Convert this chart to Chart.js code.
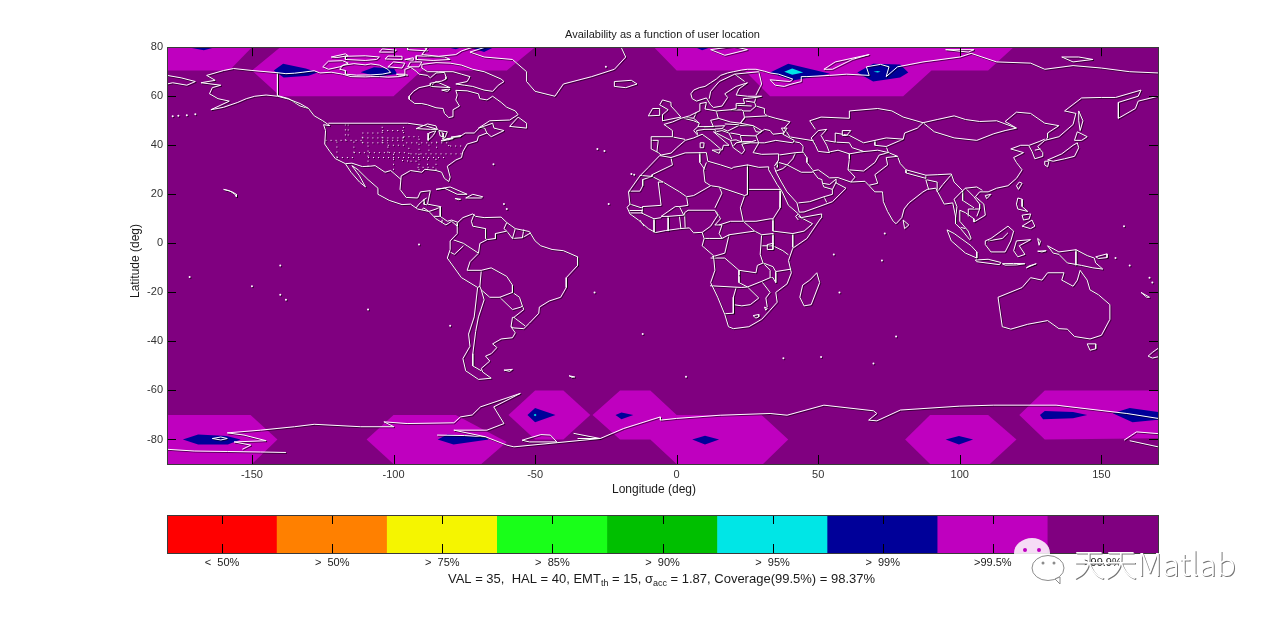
<!DOCTYPE html>
<html>
<head>
<meta charset="utf-8">
<script src="https://cdn.jsdelivr.net/npm/chart.js@4"></script>
<style>
html, body { margin: 0; padding: 0; background: #fff; }
#map { position: absolute; left: 0; top: 0; }
#bar { position: absolute; left: 0; top: 505px; }
</style>
</head>
<body>
<canvas id="map" width="1280" height="505" style="width:1280px;height:505px"></canvas>
<canvas id="bar" width="1280" height="116" style="width:1280px;height:116px"></canvas>
<script>
// axes
var lonTicks = [-150, -100, -50, 0, 50, 100, 150];
var latTicks = [80, 60, 40, 20, 0, -20, -40, -60, -80];

// colour bar
var levelNames = ['<  50%', '>  50%', '>  75%', '>  85%', '>  90%', '>  95%', '>  99%', '>99.5%', '>99.9%'];
var levelValues = [1, 1, 1, 1, 1, 1, 1, 1, 1];
var levelColors = ['#ff0000', '#ff8000', '#f5f500', '#19ff19', '#00bf00', '#00e6e6', '#000099', '#bf00bf', '#800080'];

// availability contours, lon,lat pairs
var zoneAll = [-180,80, 170,80, 170,-90, -180,-90];
var above995 = [
  [-180,80, -150,80, -158,70.5, -180,70.5],
  [-140,80, -150,70.5, -140,60, -100,60, -90,70.5, -60,70.5, -50,80],
  [-8,80, 0,70.5, 24,70.5, 33,60, 80,60, 90,70.5, 110,70.5, 119,80],
  [-180,-70, -150.5,-70, -141,-80, -150,-90, -180,-90],
  [-109.5,-80, -100,-70, -78,-70, -60,-81, -69,-90, -100,-90],
  [-59.4,-70, -50,-60, -40,-60, -30.5,-70, -40,-80, -50,-80],
  [-29.7,-70, -20,-60, -9.3,-60, 0,-70, 30,-70, 39.4,-80, 30.5,-90, 0,-90, -9.3,-80, -20,-80],
  [80.7,-80, 89.5,-70, 110,-70, 120,-80, 110.6,-90, 89.5,-90],
  [121,-70, 130,-60, 170,-60, 170,-79.5, 130,-80]
];
var above99 = [
  [-172.6,80, -167,78.8, -163,80],
  [-142.3,70.5, -139,73.3, -131,71.3, -126.8,69.7, -130,68.4, -138.8,67.6],
  [-111.6,69.8, -106.9,71.8, -99.8,71.2, -98.7,69.1, -105.7,68],
  [-81,80, -78,79.2, -76,80],
  [-73,80, -68,78, -64.6,80],
  [6.6,80, 9,78.8, 12,80],
  [33,69.7, 39.4,73.3, 54.2,69.2, 41,66.4],
  [63.8,69.7, 69.4,73.3, 78.9,72.9, 81.8,69.7, 78.9,67.6, 69.4,66],
  [-174.4,-80, -169,-78, -159,-78.6, -154,-80, -158.5,-82, -169,-82],
  [-84.4,-80, -81,-78, -67.5,-79, -66.4,-80, -78.8,-82],
  [-52.7,-70, -50,-67.2, -42.8,-70, -50,-73],
  [-21.6,-70, -19.5,-69, -15.3,-70, -19.5,-71.7],
  [5.5,-80, 10,-78.5, 15,-80, 10,-82],
  [95,-80, 99.7,-78.6, 104.7,-80, 99.7,-82],
  [128.3,-70, 130,-68.4, 140,-68.8, 145,-70, 140,-71.3, 129.4,-71.7],
  [154,-69.3, 160,-67.2, 170,-68.8, 170,-72, 161,-73]
];
var above95 = [
  [38,70, 40.8,71.3, 44.7,69.7, 40.8,68.8],
  [69.5,70, 71,70.3, 72,70, 71,69.7],
  [-50.5,-70, -50,-69.5, -49.5,-70, -50,-70.5]
];

// coastlines, lon,lat
var coastAmericas = [-141,69.6,-138,69.2,-135,69.4,-132,69.8,-128,70.4,-126,69.5,-122,69.8,-118,69,-115,68,-110,67.9,-108,68,-105,68,-102,67.8,-98,68,-96,68.5,-96,71,-94,71.8,-92,70.2,-91,69,-88,68.5,-87,67.5,-85,69.5,-82,69.7,-81.5,68,-81.5,67,-83,66.2,-87,65.3,-87,64.5,-91,63.5,-93,62,-94.5,60,-94.5,58.8,-92.5,57,-90,57,-88,56.5,-85,55.3,-82.5,55,-82,53,-80.5,51.3,-79,51.7,-79,54.5,-76.7,56,-78,58.5,-77.5,60.5,-78,62.4,-74,62.2,-70,61,-69.5,59,-67,58.5,-65,60,-62,57.5,-60,55.5,-57,54,-56,52.5,-59,50.3,-66,50,-70,47,-65,49,-64.5,47,-61,46,-65.5,43.5,-67,45,-70,43.7,-70.5,41.7,-74,40.5,-75.5,37.5,-76,35,-78,34,-81,31.5,-80,27,-80.5,25.2,-82,26.5,-83,29,-85,29.7,-89,30.2,-90,29,-94,29.7,-97.3,27.5,-97.7,22,-95.5,18.7,-91.5,18.5,-90.5,21,-87,21.5,-88,16,-83.5,15,-83.5,11,-81,9,-79.5,9.5,-77.3,8.6,-75.5,10.5,-72,12,-71,11,-68,10.5,-62,10.7,-60,8.5,-57,6,-52,4.8,-50,1,-48,-1,-44,-2.5,-40,-3,-35,-5.5,-35,-9,-39,-14,-39,-18,-41,-22,-45,-23.5,-48.5,-26,-48.7,-28.5,-52,-32.5,-54,-34.8,-57.5,-34.5,-58.5,-34,-57,-36.5,-58,-38.5,-62,-39,-65,-41,-63.5,-42.5,-65.5,-45,-67.5,-46,-66,-48,-69,-51,-68.5,-52.5,-65.5,-55,-70,-55.5,-74.5,-52,-75.5,-47,-73,-42,-73.5,-37,-71.5,-30,-70.3,-18,-76,-14,-81,-6,-80,-2.5,-80,1,-77.5,4,-77.5,7,-79.5,9,-81.5,7.5,-85,10,-87.5,13,-91.5,14,-94,16,-97,15.8,-101.5,17.5,-105.5,20,-105.5,22.5,-109,26,-112.5,30,-114.7,31.7,-112,27.5,-109.9,23,-112,25,-115,29,-117,32.5,-120.5,34.5,-122.5,37.5,-124.3,40.5,-124,46,-124.7,48.4,-122.5,48,-125,50,-128,52,-130,55,-133,57,-137,58.8,-141,60,-145,60.5,-149,60,-152,59,-155,57.5,-160,55.5,-164.5,54.5,-158,58,-162,59,-165,61,-164,63.5,-161,64.5,-168,65.5,-163,66.5,-166,68.5,-160,70.5,-156.5,71.3,-150,70.5,-141,69.6];
var coastAfrica = [-6,35.8,-10,31,-13,27.5,-17,21,-16.5,16,-17.5,14.7,-16.5,12,-13.5,9.5,-10,6,-7.5,4.4,-4,5.2,1,6,4.5,6.3,6,4.3,9,4.5,9.7,2,9,-1,13,-5,13.5,-11,12,-16,14.5,-22,17,-29,18.3,-34,20,-34.8,25.5,-34,30,-31,32.8,-27.5,35.5,-24,35,-20,39,-16.5,40.5,-12,39.5,-7,41,-2,46,2,51,10.5,51.2,12,44,10.5,43,12,39.5,15.5,37.3,21,35.5,24,33.5,28,32.5,30,32.5,31.2,29,31,25,32,20,31,19.5,30.5,15.5,32,11,33.5,10.5,37,3,36.9,-2,35,-6,35.8];
var coastEurasia = [34.5,31.5,36,34,36,36.5,30,36.3,27,37,29,41,26,41,23,40.5,24,38,23,36.5,20,39,19,42,14,45,13,45.5,18.5,40,16.5,40,16,38,12,42,9,44.5,6,43,3,42,0,39,-2,36.8,-5.5,36,-6.5,37,-9,38.5,-9,43.5,-1.5,43.5,-1.5,46,-4.5,48.5,-1.5,49.5,1.5,51,4.5,52,8,54,8.2,57,10.5,57.5,10,54.8,14,54,19,54.5,21,55,21,57,24,57,23.5,59,28,59.5,30,60,25,60,21,60.5,22,63,25,65.5,21,64,17,61,18,59.5,16,56,13,55.4,12,56.5,10.5,59.3,7,58,5.5,59,5,61,6,62.5,8,63.5,10,64,12,65.5,14,67,15.5,68.5,18,69.5,20,70,23,70.7,25,71,28,71,31,70.2,33,69.5,36,69,41,67,40,66,35,66.5,33,66.7,34.8,64.5,38,64,40,64.8,44,66,44,68,46,68,54,68.5,60,69,68,68.5,67,72,72,73,75,72,74,68,78,72,87,74,100,76,104,77.5,113,74,125,73.5,130,71,140,72.5,150,71.5,160,70,170,69.5,180,69];
var coastEastAsia = [34.9,29.5,37,25,39,21,42.5,16.5,43.3,12.7,45,12.8,52,15.7,55,17,59.8,22.5,56.5,24.5,56.3,26.2,54,24,51.5,24.5,51.3,26,50,26.5,48,29.5,50,30,54,26.7,57,26.8,61.5,25,66.5,25.3,68,23.5,70,21,72.7,21,73,17,74.5,13,76.5,9,77.5,8,79.5,10.5,80.3,14,82,16.5,87,21,88.5,22,91.5,22.5,94.5,16,97.5,16.5,98.5,11,98.5,8,100.3,6,103.5,1.5,104,2,103,5,100,9,100,13.5,102,12.5,105,10,105,8.7,109,11.5,108.5,16,105.5,19,107,21,110,21,113,22.5,117,23.5,120,26.5,122,30,120,33,119,35,122.5,37,118,38.5,121.5,40,124.3,40,125.5,37.5,126.5,34.5,129.3,35.5,129.3,37,127.5,39.5,130,42,135,43.5,140,48.5,141,53,137,54,143,59.3,150,59.5,155,59.5,164,62.5,163,60,156,57.5,156,51,162,55,163,58,170,60,179,62.5,180,65,178,64.5,172,66,180,68.5];
var coastChukotkaWest = [-180,68.5,-175,67.5,-170,66,-173,64.5,-178,65.5,-180,65];

// islands
var islandBaffin = [-61,66,-63,64.5,-65,62,-68,62.5,-72,64,-75,64.5,-78,65,-74,66,-73,68,-76,69,-79,70,-84,70,-88,70,-90,71.5,-90,73,-85,73.7,-80,73.5,-76,72.7,-72,71,-68,70,-62,67,-61,66];
var islandVictoria = [-117,69,-113,68.6,-108,68.7,-104,69,-101,69.7,-102,71,-105,72.7,-108,73.2,-110,72.8,-114,73.3,-118,72.6,-119,71,-117,70.5,-117,69];
var islandBanks = [-125,72,-123,71,-119,72,-116,73.5,-118,74.5,-123,74.3,-125,72];
var islandEllesmere = [-90,77,-84,76.3,-78,77,-76,78.5,-72,80,-65,81.5,-62,82.5,-70,83,-75,83,-85,82.3,-90,81.5,-88,80,-90,77];
var islandDevon = [-92,75,-86,74.6,-80,75,-82,76,-88,76.3,-92,76.5,-92,75];
var islandMelville = [-117,75,-110,74.6,-106,75,-105,76,-110,76.5,-117,76.3,-117,75];
var islandPatrick = [-122,76,-117,77.3,-116,76.5,-120,75.8,-122,76];
var islandBathurst = [-103,75.2,-97,75,-97,76.3,-102,76.4,-103,75.2];
var islandCornwallis = [-96,75,-93,74.7,-93,75.7,-96,75];
var islandRingnes = [-105,78,-100,78,-99,78.8,-104,79.3,-105,78];
var islandWales = [-102,72,-97,71.5,-96,73.5,-100,74,-102,72];
var islandSomerset = [-95,72,-91,72,-90,74,-94,74,-95,72];
var islandKingWilliam = [-99,69,-96,69,-95,68.6,-98,68.6,-99,69];
var islandHeiberg = [-95,79,-88,78.5,-90,81,-95,80.5,-95,79];
var islandSouthampton = [-87,64,-80,63.5,-85,66,-87,64];
var islandCoats = [-83,62.5,-80,63,-81,62,-83,62.5];
var islandNewfoundland = [-59,47.7,-53,47,-53,49,-56,51.5,-59,47.7];
var islandGreenland = [-73,78,-65,81,-50,82.5,-30,83.5,-20,81,-18,76,-22,71,-30,68,-40,65,-43,60,-50,62,-53,66,-53,70,-58,75,-68,76,-73,78];
var islandIceland = [-22,64,-22,66,-16,66.5,-14,65,-18,63.5,-22,64];
var islandBritain = [-5,50,1.5,51.5,0,53.5,-2,56,-2,57.5,-5,58.5,-6,56.5,-3,54.5,-5,52.5,-5,50];
var islandIreland = [-6,52.2,-6,55,-8.5,55,-10,52,-6,52.2];
var islandSvalbard = [12,79,20,80.3,25,79,17,76.7,12,79];
var islandNovaya = [52,71,56,74,68,77,62,75,55,71,52,71];
var islandSeverna = [95,79,105,79,103,78,95,79];
var islandSiberia = [136,76,142,76,147,75,140,74,136,76];
var islandCuba = [-85,22,-80,23,-74,20,-77.5,20,-82,22.5,-85,22];
var islandHispaniola = [-74.5,18.5,-69,18.5,-68.5,19,-72,20,-74.5,18.5];
var islandJamaica = [-78.3,18.3,-76.3,18,-77,17.8,-78.3,18.3];
var islandHawaii = [-160,22,-157,21,-155.5,20,-155.5,19,-156,20,-158,21.5,-160,22];
var islandSicily = [12.5,38,15.5,38.2,15,36.7,12.5,38];
var islandSardinia = [8.3,41,9.7,41,9.5,39,8.5,39,8.3,41];
var islandMadagascar = [49.5,-12,50.5,-16,47.5,-25,45,-25.5,43.5,-22,44.5,-17,47,-15,49.5,-12];
var islandSriLanka = [80,9.5,82,7.5,80.5,6,80,9.5];
var islandSumatra = [95.5,5.5,98,4,104,-1,106,-3.5,106,-6,102,-4,97,1,95.5,5.5];
var islandJava = [105.5,-6.8,110,-6.5,114.5,-7.8,114,-8.7,106,-7.5,105.5,-6.8];
var islandBorneo = [109,1,111,2,117,7,119,5,118,1,116,-3.5,111,-3.5,109,-0.5,109,1];
var islandSulawesi = [120,1,125,1.5,121,-1,123,-4.5,120.5,-5.5,119,-3,120,1];
var islandLuzon = [120.5,18.5,122,18,122,15,124,13,120.5,14,120,16,120.5,18.5];
var islandMindanao = [122,7,125.5,9.5,126.5,7,125,6,122,7];
var islandVisayas = [122,11.5,125,12,124.5,10,122.5,9.5,122,11.5];
var islandTimor = [123.5,-10,127,-8.3,124.5,-9.2,123.5,-10];
var islandSunda = [115,-8.3,119,-8.2,123,-8.3,120,-8.8,116,-8.9,115,-8.3];
var islandHalmahera = [127.5,2,128.5,1,128,-0.8,127.5,2];
var islandSeram = [127.5,-3.2,130.5,-3,129,-3.5,127.5,-3.2];
var islandTaiwan = [121,25,122,24.5,120.7,22,120,23.5,121,25];
var islandHainan = [109,19.5,111,20,109.5,18.2,109,19.5];
var islandHonshu = [131,34,136,36.5,140,40,141.5,41,142,39,140.5,35.5,137,34.5,133,33.5,131,34];
var islandHokkaido = [140.5,42,141.5,45.5,145,43.5,143,42,140.5,42];
var islandKyushu = [130,33.5,131.5,33.5,131,31.2,130,32,130,33.5];
var islandSakhalin = [142,54,143.5,50,142.5,46,142,50,142,54];
var islandNewGuinea = [131,-1,135,-3.5,141,-2.6,145,-5,147.5,-6,148,-8,150.5,-10.5,147,-10,143,-9,138,-8,135,-4.5,133,-4,131,-1];
var islandBritainNew = [148,-5.5,152,-4.3,152,-5.8,149,-6.2,148,-5.5];
var islandCaledonia = [164,-20,167,-22,166,-22,164,-20];
var islandAustralia = [113.5,-22,115,-34,118,-35,124,-33,131,-31.5,135,-34.8,138,-35,140.5,-38,146,-39,150,-37.5,153,-31,153,-25,149,-21,146,-19,145,-15,142.5,-11,141.5,-15,140,-17.5,136,-15,136.8,-12,131,-12,129,-15,125,-14,122,-18,113.5,-22];
var islandTasmania = [145,-41,148,-41,148,-43,146,-43.6,145,-41];
var islandNewZealand = [166.5,-46,168,-44.5,171,-42,173,-41,174.5,-42,171,-46,168,-46.8,166.5,-46];
var islandFalkland = [-61,-51.7,-58,-51.4,-59,-52.2,-61,-51.7];
var islandGeorgia = [-38,-54,-36,-54.5,-37,-54.6,-38,-54];

// lakes and inland seas
var seaBlack = [29,41,28,44,31,46.5,33,46,34,44.5,38,45,37,47,39,47,37.5,44.5,41.5,42,41,41,35,42,31,41,29,41];
var seaCaspian = [50,46,53,46.5,51,44,53,40,54,37,50,37.5,49,40,47.5,43,50,46];
var seaAral = [58.5,46,61.5,46,60,44,58.5,44,58.5,46];
var lakeSuperior = [-92,46.8,-88,48.7,-85,47.9,-84.5,46.5,-87,46.5,-92,46.8];
var lakeMichigan = [-87.8,42,-86,44,-85,46,-87.5,45,-87.8,42];
var lakeHuron = [-84,46,-81,45.5,-81.8,43.2,-83.5,43.8,-84,46];
var lakeErie = [-83,41.7,-79,42.7,-79,43,-83,42,-83,41.7];
var lakeOntario = [-79.7,43.3,-76,44,-76.5,43.5,-79.7,43.3];
var lakeVictoria = [32,-0.5,34,0,34,-2.5,32,-2.5,32,-0.5];

// Antarctica
var antEast = [-60,-82.3,-57.5,-83,-27,-79.6,-18.7,-75.5,-5.8,-70.8,-5.75,-72.1,0,-71.4,15.4,-70.1,33,-69.4,39,-70.1,52,-66,69.5,-68.3,70.7,-69.4,67.8,-72.1,70.7,-72.4,79,-68,100,-66.4,112,-66,134,-66,159,-69.4,170,-71.4];
var antPeninsula = [-60,-82.3,-67.5,-78.9,-78.7,-76.2,-67,-76.2,-61,-73.5,-64.6,-66.7,-55.2,-61.2,-69.3,-66.7,-72.2,-70,-76.4,-70.8,-78.7,-73.2,-95.2,-73.5,-103.4,-72.8,-99.9,-74.8,-111.6,-74.8,-128,-73.8,-135,-74.8,-147,-76.2,-158.7,-77.3,-152.8,-78.2,-145,-80.5,-156.3,-81,-150.4,-82.3,-153.4,-84];
var antRoss = [-180,-84,-170.4,-84.7,-158.7,-84.9,-146.9,-85.1,-138,-85.3];
var antRonne = [-84.6,-78.2,-75,-78.4,-67.5,-78.9];
var antBerkner = [-54.6,-80.3,-48,-78,-44.6,-78.2,-42.3,-81,-52,-81,-54.6,-80.3];
var antWeddell = [-36.4,-77.5,-27,-79.6,-35,-79.6];
var antRoosevelt = [-164,-79.6,-161,-79,-158.7,-79.6,-161,-80.2,-164,-79.6];
var antVictoria = [158,-80.3,162.4,-76.9,170,-77.6];
var antVictoria2 = [160,-80.5,170,-83];

// borders
var borderCanada = [-123,49,-95,49,-89,48,-84.5,46.5,-82.5,45,-82.5,42.5,-79,43,-76,44,-74.7,45,-71.5,45,-69.5,47.3,-67.8,47,-67,45];
var borderAlaska = [-141,69.6,-141,60.3,-137,59,-133,56,-130,55];
var borderMexico = [-117,32.5,-114.7,32.7,-111,31.3,-108,31.5,-106.5,31.7,-103,29,-101,29.7,-97.3,26];
var bordersCentral = [
  [-92,14.5,-91,16,-89.2,17.9,-88.3,18.5], [-89.2,17.9,-89.2,15.9,-88.2,15.7], [-90,13.8,-89.3,14.4,-87.7,13.2],
  [-87.5,13,-85,14,-83.2,15], [-85.7,11,-83.7,11], [-83,8.3,-82.8,9.6], [-77.3,8.6,-77.5,7]
];
var bordersSouth = [
  [-71.5,12,-72.5,9,-72,7,-67.5,6,-67.5,2,-67,1.5], [-70,-4,-69.5,0,-67,1.5], [-70,-4,-74,-1,-75.3,0], [-75.3,0,-78.8,1.4],
  [-80.3,-3.4,-78.5,-4.5,-75.3,-1], [-60,8.5,-61,6,-60,5], [-57,6,-58,2], [-54,5.7,-54.5,2.3],
  [-51.5,4.3,-54.5,2.3,-58,2,-60,5,-64,4,-64,2,-67,1.5], [-70,-4,-73,-7.5,-74,-11,-69,-11],
  [-69,-11,-65.5,-10,-60,-13.5,-58,-17,-58,-20,-62.5,-22,-66,-22,-69,-19,-69.5,-17.5,-69,-11], [-70.3,-18,-69.5,-17.5],
  [-69,-19,-68,-23,-70,-30,-71,-36,-72,-45,-72,-50,-69,-52], [-62.5,-22,-58,-27,-55,-26,-54.5,-25.5],
  [-58,-20,-55.5,-22,-54.5,-25.5], [-54.5,-25.5,-54,-27,-57.5,-30.2], [-58.5,-34,-58,-30.2,-57.5,-30.2,-53.5,-33.7]
];
var bordersAfrica = [
  [-2,35,-1.5,32,-8.7,28,-8.7,27.3], [-8.7,27.3,-13,27.7], [-8.7,27.3,-12,26,-12,23.5,-13,21.3,-17,21.3],
  [-8.7,27.3,-4.8,25,-6.5,25,-5.5,15.5,-12,15,-12.5,14.5,-16.5,16], [-4.8,25,1,21,3.5,19], [3.5,19,6,19.5,12,23.5],
  [12,23.5,10,25,9.5,30,10.5,33], [8,37,8.2,33,10,30], [25,32,25,20], [25,22,36.8,22], [25,20,24,19.5,15,23],
  [12,23.5,15,23], [15,23,16,20.5,13.5,14.5], [24,19.5,22.5,14.5,23.5,9], [3.5,19,4,15.5,1,15],
  [1,15,-0.5,15,-5.5,11,-3,11,2.5,11.5,1,15], [-12,15,-12.3,12.3,-8,10,-5.5,10.5], [2.8,12.5,3,6.4],
  [2.8,12.5,4,13.5,13.5,13.5,14.5,11.5,12,7,9,4.5], [14,13,15.5,10,13.5,7.5,16,7.5,15,4],
  [15,7.5,19,9,23.5,9,27.5,5,18.5,3.5,16,2,15,4], [-8,10,-8,4.5], [-3,11,-3,5], [1,11,1.5,6], [-11.5,7,-13,9.5],
  [-16.7,13.4,-12,13.4], [-16.7,12.4,-12,12.4], [27.5,5,30,3.5,34,4], [23.5,9,28,9,33,10,34,10], [9.7,2,11.5,2,16,2],
  [12.5,-5.5,17,-4,18.5,3.5], [36.8,22,36.5,14.5,34,10,34,5,41,4], [43,11,48,8,45,5,41,4], [43,12,42,11,43,9.5],
  [34,4,34,-1,37.5,-3,39.5,-4.7], [41,4,41,-1.6], [30,3.5,29.5,-4.5,30.5,-8,28.5,-9,28,-12,22,-11,22,-13],
  [30,-1,34,-1], [40.5,-10.5,35,-11.5,34,-9.5,30.5,-8], [11.8,-17.3,23,-18,25,-17.8], [12,-6,17,-6,22,-11],
  [20,-22,20,-28.5,17,-28.7], [21,-18,20,-22], [20,-25,23,-25.5,26,-25,29,-22.3,25,-17.8],
  [22,-13,22,-16,25,-17.8,30,-15.5,33,-14,33,-11,30.5,-8], [30,-15.5,33,-20,31.5,-22.3,32,-26], [35,-11.5,35,-16,34,-14,33,-14],
  [27,-29.5,29,-29,29,-30,28,-30.5,27,-29.5], [31,-26,32,-26.5,31.5,-27.3,31,-26]
];
var bordersEurope = [
  [29,70,20.5,69,15,66,12,62,11.5,59], [20.5,69,24,66], [29,70,30,65,28,60.5], [28,59.5,27.5,57.5,28,56,26,54,23.5,54,23,54.4,19,54.4],
  [24.5,58,27.5,57.5], [21,56.3,26.5,56], [32,52,31,53,31,55,28,56], [40,49.6,38,47], [40,49.6,35,51,32,52,24,51.5,22.5,49,27,48,30,46,29.7,45.3],
  [14,54,14.7,51,19,49.5,22.5,49,24,51,23.5,54], [7,53.5,6,51,8,49,7.5,47.6,13,47.6,12,50.2,15,51], [2.5,51,6,50,8,49], [3.5,51.4,6,51],
  [7.5,47.6,6,46,7.5,44], [-1.5,43.4,3,42.4], [-9,42,-6.5,42,-7,37.2], [7.5,44,7,46,10,46.5,13.5,46.5,13.7,45.7], [9.7,47.5,17,48,16,46.8,13.5,46.6],
  [17,48.7,22,48.4], [16,46.8,18,45.8,22,48.1], [22,48,27,48,28,45.5,29.7,45.3], [22.5,44,28,43.8], [22.5,44,23,41.4,26,41.3,28,42],
  [20,39.7,21,41,23,41.4,26.3,41.5], [19,42,21,42.2,23,41.3], [13.7,45.5,16,46,18.5,45,19.5,42.5], [19,45,22.5,44.3], [38,47,40,43.4], [40,43.4,48.5,41.8]
];
var bordersAsia = [
  [36,36,42,37,44.7,37.2], [41.5,41.5,43.5,41,44.7,39.7], [44.7,39.7,44.5,37.5,46,35,46,33,48,30], [39,32,44,29,48,29], [42,37,41,34.5,39,32,36,33],
  [35,29.4,37.5,30.5,39,32], [34.5,31,35,29.5], [35.7,33,35.5,31], [43,16.5,47,17,52,19,55,20,55,22,52,23,51.5,24.5], [56.3,25,55,22], [52,19,53,16.7],
  [54,37.3,57,38,61,36.5,61,34.5], [61,34.5,60.5,30,61,29.5,63,27,61.5,25], [61,36.5,65,37.3,71,38,74.8,37], [60.5,30,66,29.5,70,33,71.5,36,74.8,37],
  [68,23.7,71,24.5,70,28,74.5,32,74,35,78,35.5], [74.8,37,78,35.5,79,32.5,81,30,88,27.8,92,28,97,28.3,98,25,101,21.5,102,22.5,106,23,108,21.6], [81,30,81,28.7,88,26.5,88,27.8],
  [88,26,89,22], [92,21,92,25,88,26], [92,21,94,24,97,28], [98.5,10,99,15,98,18,101,21.5], [102,22.5,105,19,107,16,107,14,106,11], [101,21.5,101,17.5,105,14.5], [103,11,103,14,107,14],
  [100.3,6.5,102,6], [52.5,42,56,41.3,56,45,61,44,66,41,70,42,74,43,80,42.5], [80,42.5,80.5,45,85,47,87,49.2], [47,50,49,46.5], [47,50,51,51.5,61,51,61,54,71,55,76,54,80,51.5,87,49.2],
  [56,41.3,61,41,62,39,66,37.5], [70,42,70,40,74,39.5], [80,42.5,74,39.5,74.8,37], [87,49.2,92,50.5,98,52,102,50.5,107,49.7,113,50,120,47,116,46,112,44.7,106,42,98,43,91,45.5,87,49.2],
  [120,47,116,49.7,120,53.5], [120,53.5,125,53,130,49,135,48,131,45,131,43,130.5,42.5], [124.5,40,128,41.5,130,42.5], [126.5,38,128.5,38.5], [141,-2.6,141,-9], [117,4.3,115,2,110,1]
];

// US state lines, dotted
var stateLines = [
  [-111,45,-104,45], [-111,43,-96.5,43], [-124,42,-111,42], [-104,42,-96,42], [-111,41,-102,41], [-95.5,41,-80.5,41], [-102,40,-95,40], [-114,37,-94.6,37],
  [-94,36.5,-75.5,36.5], [-120,35,-114,35], [-109,35,-82,35], [-94,33.5,-91,33.5], [-91.5,31,-85,31], [-80,39.7,-75,39.7], [-104,46,-96.5,46], [-96.5,43.5,-91,43.5],
  [-117,42,-117,49], [-116,44,-116,49], [-114,37,-114,42], [-111,41,-111,45], [-109,31.3,-109,41], [-104,41,-104,49], [-102,37,-102,41], [-96.5,43,-96.5,49], [-94.6,36.5,-94.6,40],
  [-91,30,-91,43], [-88,30,-88,35], [-85,30,-85,35], [-87.5,37.8,-87.5,41.7], [-84.8,39,-84.8,41.7], [-80.5,39.7,-80.5,42], [-100,30,-100,37], [-120,35,-120,42], [-97,33.8,-94,33.5]
];

// small islands shown as specks
var speckLon = [-28,-25.5,-16,-15,-24,-91,-37,-109,-80,-12,3.3,37.7,51,69.5,77.5,57.5,55.5,73.5,72.5,-64.7,-60,-61,-176,-178,-173,-170,-25,-29,-150,-140,-172,178,168,167,160,158,155,-140,-138];
var speckLat = [38.5,37.7,28.3,28,16,-0.5,-54.5,-27,-33.6,-37,-54.4,-46.9,-46.4,-49,-38,-20,-4.6,4,-7,32.3,14,16,52,51.8,52.2,52.7,72,-20,-17.5,-9,-13.7,-18,-16,-14,-9,7,-6,-21,-23];

// text
var mapTitle = 'Availability as a function of user location';
var lonLabel = 'Longitude (deg)';
var latLabel = 'Latitude (deg)';
var captionParts = [['VAL = 35,  HAL = 40, EMT'], ['th', 'sub'], [' = 15, σ'], ['acc', 'sub'], [' = 1.87, Coverage(99.5%) = 98.37%']];

var uiFont = '"Liberation Sans", Arial, sans-serif';

function pairs(flat) {
    var out = [];
    for (var i = 0; i < flat.length; i += 2) out.push({ x: flat[i], y: flat[i + 1] });
    return out;
}

function shape(flat, color, order) {
    return { type: 'scatter', data: pairs(flat), showLine: true, fill: 'shape', backgroundColor: color,
        borderWidth: 0, pointRadius: 0, tension: 0, order: order };
}

function outline(flat, width, dash) {
    return { type: 'scatter', data: pairs(flat), showLine: true, fill: false, borderColor: '#ffffff',
        borderWidth: width || 1, borderDash: dash || [], pointRadius: 0, tension: 0, order: 1 };
}

var datasets = [shape(zoneAll, '#800080', 40)];
above995.forEach(function (p) { datasets.push(shape(p, '#bf00bf', 30)); });
above99.forEach(function (p) { datasets.push(shape(p, '#000099', 20)); });
above95.forEach(function (p) { datasets.push(shape(p, '#00e6e6', 10)); });

[coastAmericas, coastAfrica, coastEurasia, coastEastAsia, coastChukotkaWest,
 islandBaffin, islandVictoria, islandBanks, islandEllesmere, islandDevon, islandMelville, islandPatrick, islandBathurst, islandCornwallis, islandRingnes, islandWales, islandSomerset, islandKingWilliam, islandHeiberg, islandSouthampton, islandCoats, islandNewfoundland,
 islandGreenland, islandIceland, islandBritain, islandIreland, islandSvalbard, islandNovaya, islandSeverna, islandSiberia, islandCuba, islandHispaniola, islandJamaica,
 islandHawaii, islandSicily, islandSardinia, islandMadagascar, islandSriLanka, islandSumatra, islandJava, islandBorneo, islandSulawesi, islandLuzon, islandMindanao, islandVisayas,
 islandTimor, islandSunda, islandHalmahera, islandSeram, islandTaiwan, islandHainan, islandHonshu, islandHokkaido, islandKyushu, islandSakhalin, islandNewGuinea, islandBritainNew,
 islandCaledonia, islandAustralia, islandTasmania, islandNewZealand, islandFalkland, islandGeorgia,
 seaBlack, seaCaspian, seaAral, lakeSuperior, lakeMichigan, lakeHuron, lakeErie, lakeOntario, lakeVictoria,
 antEast, antPeninsula, antRoss, antRonne, antBerkner, antWeddell, antRoosevelt, antVictoria, antVictoria2,
 borderCanada, borderAlaska, borderMexico].forEach(function (l) { datasets.push(outline(l)); });
bordersCentral.concat(bordersSouth, bordersAfrica, bordersEurope, bordersAsia).forEach(function (l) { datasets.push(outline(l)); });
stateLines.forEach(function (l) { datasets.push(outline(l, 1, [1, 4])); });
datasets.push({ type: 'scatter', data: speckLon.map(function (v, i) { return { x: v, y: speckLat[i] }; }),
    pointRadius: 1, pointBackgroundColor: '#ffffff', pointBorderWidth: 0, showLine: false, order: 1 });

// the map lines have a dark edge on their lower right
var lineShadow = {
    id: 'lineShadow',
    beforeDatasetDraw: function (chart, args) {
        if (args.meta.order !== 1) return;
        var c = chart.ctx;
        c.save();
        c.shadowColor = 'rgba(0,0,0,0.55)';
        c.shadowOffsetX = 1;
        c.shadowOffsetY = 1;
        c.shadowBlur = 0;
    },
    afterDatasetDraw: function (chart, args) {
        if (args.meta.order === 1) chart.ctx.restore();
    }
};

// matlab style box with ticks pointing inwards
var boxTicks = {
    id: 'boxTicks',
    afterDatasetsDraw: function (chart, args, opts) {
        var a = chart.chartArea, c = chart.ctx, len = opts.length;
        c.save();
        c.strokeStyle = '#000';
        c.lineWidth = 1;
        c.beginPath();
        chart.scales.x.ticks.forEach(function (t, i) {
            var x = Math.round(chart.scales.x.getPixelForTick(i)) + 0.5;
            c.moveTo(x, a.top); c.lineTo(x, a.top + len);
            c.moveTo(x, a.bottom); c.lineTo(x, a.bottom - len);
        });
        if (opts.yTicks) chart.scales.y.ticks.forEach(function (t, i) {
            var y = Math.round(chart.scales.y.getPixelForTick(i)) + 0.5;
            c.moveTo(a.left, y); c.lineTo(a.left + len, y);
            c.moveTo(a.right, y); c.lineTo(a.right - len, y);
        });
        c.stroke();
        c.strokeStyle = '#3a3a3a';
        c.strokeRect(Math.round(a.left) + 0.5, Math.round(a.top) + 0.5, Math.round(a.right - a.left), Math.round(a.bottom - a.top));
        c.restore();
    }
};

// axis names sit a little off centre in the reference
var axisNames = {
    id: 'axisNames',
    afterDraw: function (chart) {
        var c = chart.ctx;
        c.save();
        c.fillStyle = '#1a1a1a';
        c.font = '12px ' + uiFont;
        c.textAlign = 'center';
        c.textBaseline = 'middle';
        c.fillText(lonLabel, 654, 490);
        c.translate(136, 261);
        c.rotate(-Math.PI / 2);
        c.fillText(latLabel, 0, 0);
        c.restore();
    }
};

// subscripts in the caption under the colour bar
var captionPlugin = {
    id: 'caption',
    afterDraw: function (chart) {
        var c = chart.ctx, total = 0;
        c.save();
        c.fillStyle = '#1a1a1a';
        c.textBaseline = 'alphabetic';
        captionParts.forEach(function (p) {
            c.font = (p[1] ? 9 : 13) + 'px ' + uiFont;
            total += c.measureText(p[0]).width;
        });
        var x = 661.5 - total / 2;
        captionParts.forEach(function (p) {
            c.font = (p[1] ? 9 : 13) + 'px ' + uiFont;
            c.fillText(p[0], x, p[1] ? 81 : 77.5);
            x += c.measureText(p[0]).width;
        });
        c.restore();
    }
};

// watermark
var watermark = {
    id: 'watermark',
    afterDraw: function (chart) {
        var c = chart.ctx;
        c.save();
        c.translate(0, -505);
        c.fillStyle = 'rgba(255,255,255,0.86)';
        c.beginPath(); c.ellipse(1032, 553, 18, 15, 0, 0, Math.PI * 2); c.fill();
        c.beginPath(); c.moveTo(1018, 570); c.lineTo(1030, 566); c.lineTo(1023, 560); c.closePath(); c.fill();
        c.fillStyle = '#bf00bf';
        c.beginPath(); c.arc(1025, 550, 2, 0, Math.PI * 2); c.arc(1039, 550, 2, 0, Math.PI * 2); c.fill();
        c.fillStyle = '#fff';
        c.strokeStyle = '#8c8c8c';
        c.beginPath(); c.ellipse(1048, 568, 16, 12.5, 0, 0, Math.PI * 2); c.fill(); c.stroke();
        c.beginPath(); c.moveTo(1055, 579); c.lineTo(1060, 584); c.lineTo(1060, 577); c.closePath(); c.fill(); c.stroke();
        c.fillStyle = '#8c8c8c';
        c.beginPath(); c.arc(1043, 563, 1.5, 0, Math.PI * 2); c.arc(1054, 563, 1.5, 0, Math.PI * 2); c.fill();
        c.font = '300 32px "Noto Sans CJK SC", "Noto Sans", sans-serif';
        c.fillStyle = '#777';
        c.fillText('天天Matlab', 1074, 577);
        c.fillStyle = '#fff';
        c.fillText('天天Matlab', 1073, 576);
        c.restore();
    }
};

new Chart(document.getElementById('map'), {
    type: 'scatter',
    data: { datasets: datasets },
    plugins: [lineShadow, boxTicks, axisNames],
    options: {
        responsive: false,
        animation: false,
        layout: { padding: { left: 125, right: 122, top: 0, bottom: 0 } },
        plugins: {
            legend: { display: false },
            tooltip: { enabled: false },
            title: { display: true, text: mapTitle, fullSize: false,
                color: '#1a1a1a', font: { family: uiFont, size: 11, weight: 'normal' }, padding: { top: 28, bottom: 6 } },
            boxTicks: { length: 9, yTicks: true }
        },
        scales: {
            x: {
                type: 'linear', min: -180, max: 170,
                grid: { display: false, drawTicks: false }, border: { display: false },
                ticks: { color: '#333', padding: 4, maxRotation: 0, font: { family: uiFont, size: 11 } },
                afterBuildTicks: function (s) { s.ticks = lonTicks.map(function (v) { return { value: v }; }); },
                afterFit: function (s) { s.height = 41; }
            },
            y: {
                type: 'linear', min: -90, max: 80,
                grid: { display: false, drawTicks: false }, border: { display: false },
                ticks: { color: '#333', padding: 4, font: { family: uiFont, size: 11 } },
                afterBuildTicks: function (s) { s.ticks = latTicks.map(function (v) { return { value: v }; }); },
                afterFit: function (s) { s.width = 42; }
            }
        }
    }
});

new Chart(document.getElementById('bar'), {
    type: 'bar',
    data: { labels: levelNames, datasets: [{ data: levelValues, backgroundColor: levelColors, borderWidth: 0, barPercentage: 1, categoryPercentage: 1 }] },
    plugins: [boxTicks, captionPlugin, watermark],
    options: {
        responsive: false,
        animation: false,
        layout: { padding: { left: 167, right: 122, top: 10, bottom: 0 } },
        plugins: {
            legend: { display: false },
            tooltip: { enabled: false },
            boxTicks: { length: 9, yTicks: false }
        },
        scales: {
            x: {
                grid: { display: false, drawTicks: false }, border: { display: false },
                ticks: { color: '#1a1a1a', padding: 3, maxRotation: 0, autoSkip: false, font: { family: uiFont, size: 11 } },
                afterFit: function (s) { s.height = 68; }
            },
            y: { display: false, min: 0, max: 1 }
        }
    }
});
</script>
</body>
</html>
